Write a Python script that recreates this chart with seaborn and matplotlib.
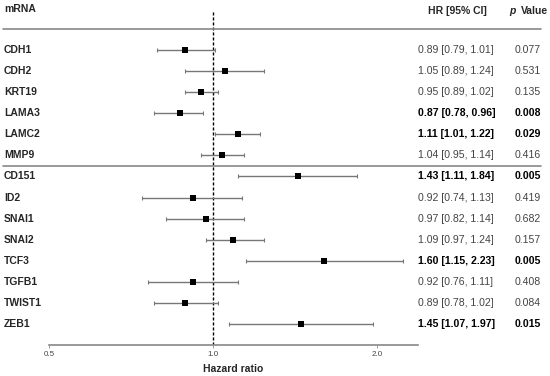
import matplotlib
matplotlib.use("Agg")
import matplotlib.pyplot as plt
import matplotlib.transforms as mtrans
import seaborn as sns
import pandas as pd

genes = ["CDH1", "CDH2", "KRT19", "LAMA3", "LAMC2", "MMP9",
         "CD151", "ID2", "SNAI1", "SNAI2", "TCF3", "TGFB1", "TWIST1", "ZEB1"]
hr = [0.89, 1.05, 0.95, 0.87, 1.11, 1.04, 1.43, 0.92, 0.97, 1.09, 1.60, 0.92, 0.89, 1.45]
lo = [0.79, 0.89, 0.89, 0.78, 1.01, 0.95, 1.11, 0.74, 0.82, 0.97, 1.15, 0.76, 0.78, 1.07]
hi = [1.01, 1.24, 1.02, 0.96, 1.22, 1.14, 1.84, 1.13, 1.14, 1.24, 2.23, 1.11, 1.02, 1.97]
pvals = ["0.077", "0.531", "0.135", "0.008", "0.029", "0.416", "0.005",
         "0.419", "0.682", "0.157", "0.005", "0.408", "0.084", "0.015"]
significant = [False, False, False, True, True, False, True,
               False, False, False, True, False, False, True]
xticks = [0.5, 1.0, 2.0]
xticklabels = ["0.5", "1.0", "2.0"]

sns.set_style("white")
plt.rcParams["font.family"] = ["Liberation Sans", "DejaVu Sans"]

df = pd.DataFrame({"gene": genes, "hr": hr, "lo": lo, "hi": hi,
                   "row": list(range(len(genes)))})

fig = plt.figure(figsize=(5.5, 3.76), dpi=100)
ax = fig.add_axes([49 / 550, 31 / 376, 369 / 550, 337 / 376])
ax.set_xscale("log")

# error bars
ax.errorbar(df["hr"], df["row"],
            xerr=[df["hr"] - df["lo"], df["hi"] - df["hr"]],
            fmt="none", ecolor="#777777", elinewidth=1.0, capsize=1.6,
            capthick=0.8, zorder=2)
sns.scatterplot(data=df, x="hr", y="row", marker="s", color="black",
                s=20, edgecolor="black", linewidth=0, ax=ax, zorder=3)

ax.set_xlim(0.5, 2 ** 1.25)
ax.set_ylim(14, -2)
ax.axvline(1.0, ymin=0, ymax=0.995, color="black", linestyle=(0, (2.2, 1.4)),
           linewidth=1.0, zorder=1)

for s in ["top", "left", "right"]:
    ax.spines[s].set_visible(False)
ax.spines["bottom"].set_color("#888888")
ax.spines["bottom"].set_linewidth(1.2)
ax.set_yticks([])
ax.set_xticks(xticks)
ax.set_xticklabels(xticklabels, fontsize=5.8, color="#444444")
ax.xaxis.set_minor_locator(matplotlib.ticker.NullLocator())
ax.tick_params(axis="x", length=2, width=0.6, color="#888888", pad=2.5, bottom=True)
ax.set_xlabel("Hazard ratio", fontsize=7.5, fontweight="bold", labelpad=4.5)
ax.set_ylabel("")

tr = mtrans.blended_transform_factory(fig.transFigure, ax.transData)

# header
ax.text(4 / 550, -1.95, "mRNA", transform=tr, fontsize=7.5, fontweight="bold",
        ha="left", va="center")
ax.text(457 / 550, -1.85, "HR [95% CI]", transform=tr, fontsize=7.5,
        fontweight="bold", ha="center", va="center")
vt = ax.text(548 / 550, -1.85, "Value", transform=tr, fontsize=7.5,
             fontweight="bold", ha="right", va="center", clip_on=False)
ax.annotate("p", xy=(0, 0), xycoords=vt, xytext=(-4.0, 0),
            textcoords="offset points", fontsize=7.5, fontweight="bold",
            fontstyle="italic", ha="right", va="bottom")

# separator lines
for yv in [-1.0, 5.5]:
    ax.plot([3 / 550, 541 / 550], [yv, yv], transform=tr, color="#888888",
            linewidth=1.2, clip_on=False, zorder=1)

# row texts
for i, g in enumerate(genes):
    sig = significant[i]
    col = "black" if sig else "#444444"
    fw = "bold" if sig else "normal"
    ax.text(4 / 550, i, g, transform=tr, fontsize=7.5, fontweight="bold",
            ha="left", va="center")
    ax.text(418 / 550, i, f"{hr[i]:.2f} [{lo[i]:.2f}, {hi[i]:.2f}]", transform=tr,
            fontsize=7.6, fontweight=fw, color=col, ha="left", va="center")
    ax.text(541 / 550, i, pvals[i], transform=tr, fontsize=7.6, fontweight=fw,
            color=col, ha="right", va="center")

fig.savefig("out.png", dpi=100)
